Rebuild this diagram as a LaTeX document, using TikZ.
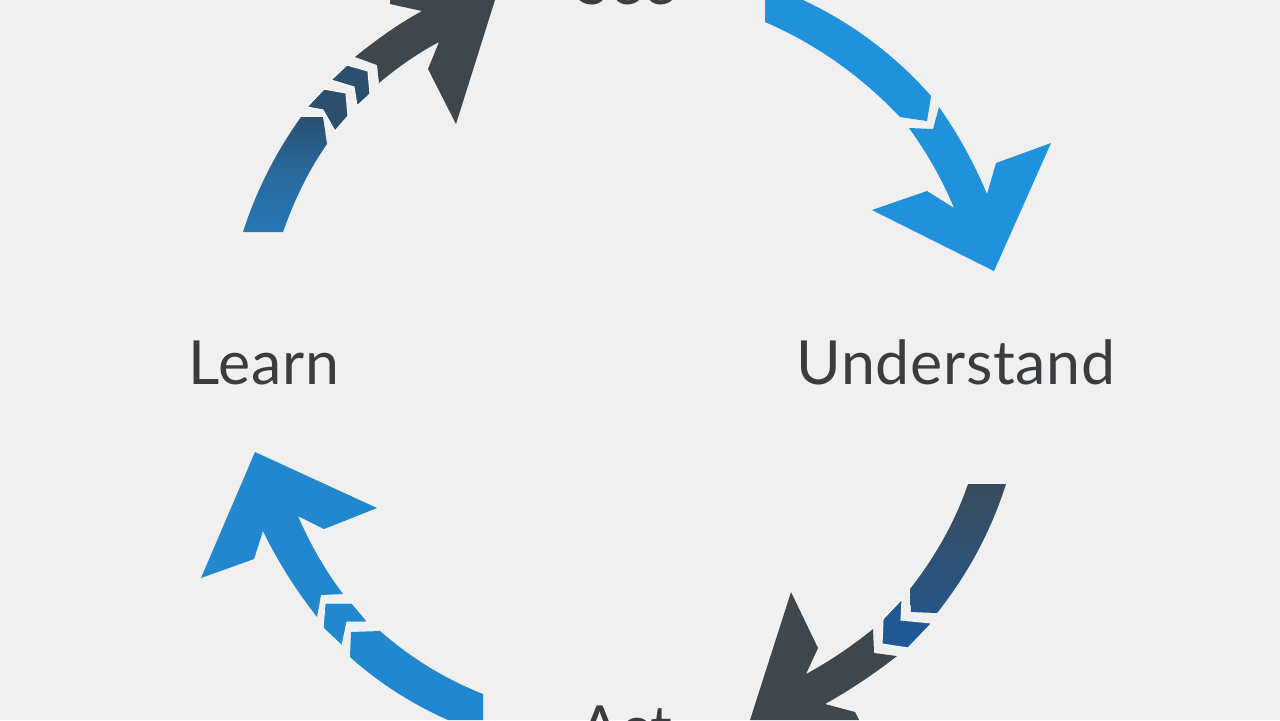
\documentclass[tikz,border=0pt]{standalone}
\usepackage{fontspec}
\setmainfont{Lato}
\definecolor{pagegray}{HTML}{F0F0F1}
\definecolor{arrowblue}{HTML}{1F92DB}
\definecolor{midblue}{HTML}{2187CF}
\definecolor{slate}{HTML}{3F464C}
\definecolor{slateblue}{HTML}{2C4F6E}
\definecolor{deepblue}{HTML}{1F5A96}
\definecolor{darkslate}{HTML}{3A4C5C}
\definecolor{steelblue}{HTML}{2777B5}
\definecolor{textgray}{HTML}{3A3D40}
\tikzset{
    cyclelabel/.style={anchor=base,text=textgray,inner sep=0pt,font=\fontsize{17.3}{20}\selectfont\addfontfeature{LetterSpace=1.2}},
    bluepart/.style={fill=arrowblue},
    midpart/.style={fill=midblue},
    slatepart/.style={fill=slate},
    chevron/.style={draw=white,line width=0.3pt,line join=miter}
}
\begin{document}
\begin{tikzpicture}[x=0.01cm,y=-0.01cm]
        \useasboundingbox (0,0) rectangle (1280,720);
        \clip (0,0) rectangle (1280,720);
        % Background
        \fill [pagegray] (0,0) rectangle (1280,720);
        % Labels
        \node [cyclelabel] (see) at (626,4) {See};
        \node [cyclelabel] (understand) at (956,384) {Understand};
        \node [cyclelabel] (act) at (626,749) {Act};
        \node [cyclelabel] (learn) at (264,384) {Learn};
        % See to Understand
        \fill [bluepart] (765,0) -- (803,0) .. controls (852,23) and (895,55) .. (931,96)
            -- (927,121) -- (900,117) .. controls (861,76) and (816,44) .. (765,22) -- cycle;
        \fill [bluepart] (909,128) -- (933,129) -- (939,107) .. controls (958,134) and (974,163) .. (987,194)
            -- (996,163) -- (1051,143) -- (994,271) -- (872,210) -- (927,191) -- (954,208)
            .. controls (942,179) and (927,153) .. (909,128) -- cycle;
        % Understand to Act
        \shade [top color=darkslate,middle color=darkslate,bottom color=deepblue!75!darkslate] (968,484) -- (1006,484)
            .. controls (991,531) and (968,574) .. (937,613) -- (911,612) -- (910,589)
            .. controls (935,557) and (955,522) .. (968,484) -- cycle;
        \fill [fill=deepblue,chevron] (902,599) -- (901,620) -- (932,623) -- (908,648)
            -- (882,644) -- (883,619) -- cycle;
        \fill [slatepart] (873,629) -- (874,653) -- (897,656) .. controls (874,674) and (850,690) .. (825,704)
            -- (855,712) -- (859,720) -- (750,720) -- (791,592) -- (818,648) -- (806,674)
            .. controls (830,661) and (852,646) .. (873,629) -- cycle;
        % Act to Learn
        \fill [midpart] (351,632) -- (380,631) .. controls (411,658) and (445,679) .. (483,694)
            -- (483,720) -- (448,720) .. controls (412,704) and (379,683) .. (350,657) -- cycle;
        \fill [fill=midblue,chevron] (325,603) -- (352,603) -- (368,622) -- (347,622)
            -- (342,646) -- (323,628) -- cycle;
        \fill [midpart] (255,452) -- (377,508) -- (324,529) -- (298,516)
            .. controls (310,544) and (325,570) .. (343,594) -- (321,595) -- (317,617)
            .. controls (296,590) and (278,562) .. (263,531) -- (254,559) -- (201,578) -- cycle;
        % Learn to See
        \shade [top color=slateblue!90!deepblue,bottom color=steelblue,middle color=steelblue!70!slateblue] (243,232)
            .. controls (256,191) and (276,152) .. (301,117) -- (323,117) -- (327,144)
            .. controls (308,171) and (294,201) .. (283,232) -- cycle;
        \fill [fill=slateblue,chevron] (307,107) -- (324,89) -- (346,93) -- (348,116)
            -- (335,131) -- (323,110) -- cycle;
        \fill [fill=slateblue,chevron] (331,80) -- (347,65) -- (368,71) -- (370,94)
            -- (357,106) -- (354,87) -- cycle;
        \fill [slatepart] (355,57) .. controls (376,40) and (398,24) .. (422,11) -- (390,4) -- (390,0)
            -- (495,0) -- (456,124) -- (428,69) -- (439,42)
            .. controls (418,53) and (398,67) .. (379,83) -- (377,65) -- cycle;
\end{tikzpicture}
\end{document}
